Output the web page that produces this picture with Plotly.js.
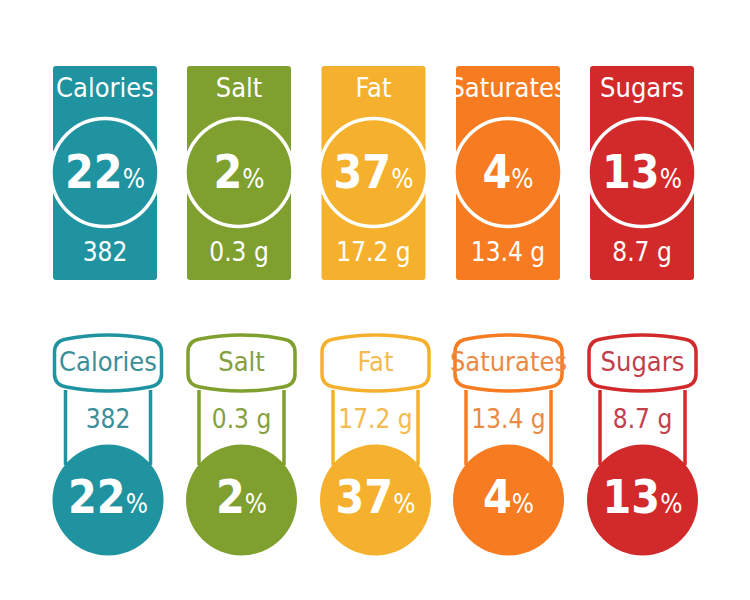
<!DOCTYPE html>
<html><head><meta charset="utf-8">
<script src="https://cdn.plot.ly/plotly-3.0.1.min.js"></script>
<style>html,body{margin:0;padding:0;background:#fff}#c{width:750px;height:600px}</style>
</head><body><div id="c"></div>
<script>
const categories=["Calories","Salt","Fat","Saturates","Sugars"];
const percents=[22,2,37,4,13];
const amounts=["382","0.3 g","17.2 g","13.4 g","8.7 g"];
const colors=["#1f93a0","#7f9f2e","#f5b12d","#f77b21","#d22a2a"];
const textColors=["#3b8f99","#84a03f","#f3bb4e","#ec8a45","#c2404a"];
const topCols=[105,239,373.5,508,642];
const botCols=[108,241.5,375.5,508.5,642.5];
const FONT='"Liberation Sans Narrow","DejaVu Sans Condensed",sans-serif';
const shapes=[];
const traces=[];
function roundRect(x0,x1,y0,y1,r){return `M${x0+r},${y0}L${x1-r},${y0}Q${x1},${y0} ${x1},${y0+r}L${x1},${y1-r}Q${x1},${y1} ${x1-r},${y1}L${x0+r},${y1}Q${x0},${y1} ${x0},${y1-r}L${x0},${y0+r}Q${x0},${y0} ${x0+r},${y0}Z`;}
function labelBox(x0,x1,y0,y1){const c=(x0+x1)/2;return `M${x0+12},${y0+4}Q${c},${y0-4} ${x1-12},${y0+4}Q${x1},${y0+6} ${x1},${y0+17}L${x1},${y1-17}Q${x1},${y1-6} ${x1-12},${y1-4}Q${c},${y1+4} ${x0+12},${y1-4}Q${x0},${y1-6} ${x0},${y1-17}L${x0},${y0+17}Q${x0},${y0+6} ${x0+12},${y0+4}Z`;}
categories.forEach((c,i)=>{
  const t=topCols[i],b=botCols[i],col=colors[i];
  shapes.push({type:"path",path:roundRect(t-52,t+52,66,280,3),fillcolor:col,line:{width:0},layer:"below"});
  [-42.5,42.5].forEach(d=>shapes.push({type:"line",x0:b+d,x1:b+d,y0:390,y1:465,line:{color:col,width:3.5},layer:"below"}));
  shapes.push({type:"path",path:labelBox(b-53.5,b+53.5,335,391),fillcolor:"#ffffff",line:{color:col,width:3.5},layer:"below"});
});
traces.push({type:"scatter",mode:"markers",x:topCols,y:topCols.map(()=>172.5),
  marker:{size:108,color:colors,line:{color:"#ffffff",width:3.5}},hoverinfo:"skip"});
traces.push({type:"scatter",mode:"markers",x:botCols,y:botCols.map(()=>500),
  marker:{size:111,color:colors,line:{width:0}},hoverinfo:"skip"});
const pct=p=>`<b>${p}</b><span style="font-size:26px">%</span>`;
traces.push({type:"scatter",mode:"text",x:topCols,y:topCols.map(()=>90),text:categories,textposition:"middle center",
  textfont:{family:FONT,size:27,color:"#ffffff"},hoverinfo:"skip"});
traces.push({type:"scatter",mode:"text",x:topCols,y:topCols.map(()=>176),text:percents.map(pct),textposition:"middle center",
  textfont:{family:FONT,size:46,color:"#ffffff"},hoverinfo:"skip"});
traces.push({type:"scatter",mode:"text",x:topCols,y:topCols.map(()=>254),text:amounts,textposition:"middle center",
  textfont:{family:FONT,size:26,color:"#ffffff"},hoverinfo:"skip"});
traces.push({type:"scatter",mode:"text",x:botCols,y:botCols.map(()=>364),text:categories,textposition:"middle center",
  textfont:{family:FONT,size:27,color:textColors},hoverinfo:"skip"});
traces.push({type:"scatter",mode:"text",x:botCols,y:botCols.map(()=>421),text:amounts,textposition:"middle center",
  textfont:{family:FONT,size:26,color:textColors},hoverinfo:"skip"});
traces.push({type:"scatter",mode:"text",x:botCols,y:botCols.map(()=>501),text:percents.map(pct),textposition:"middle center",
  textfont:{family:FONT,size:46,color:"#ffffff"},hoverinfo:"skip"});
const hidden={visible:false,fixedrange:true};
Plotly.newPlot("c",traces,{
  width:750,height:600,margin:{l:0,r:0,t:0,b:0},showlegend:false,
  paper_bgcolor:"#ffffff",plot_bgcolor:"#ffffff",
  xaxis:{...hidden,range:[0,750]},yaxis:{...hidden,range:[600,0]},
  shapes:shapes
},{displayModeBar:false,staticPlot:true});
</script></body></html>
